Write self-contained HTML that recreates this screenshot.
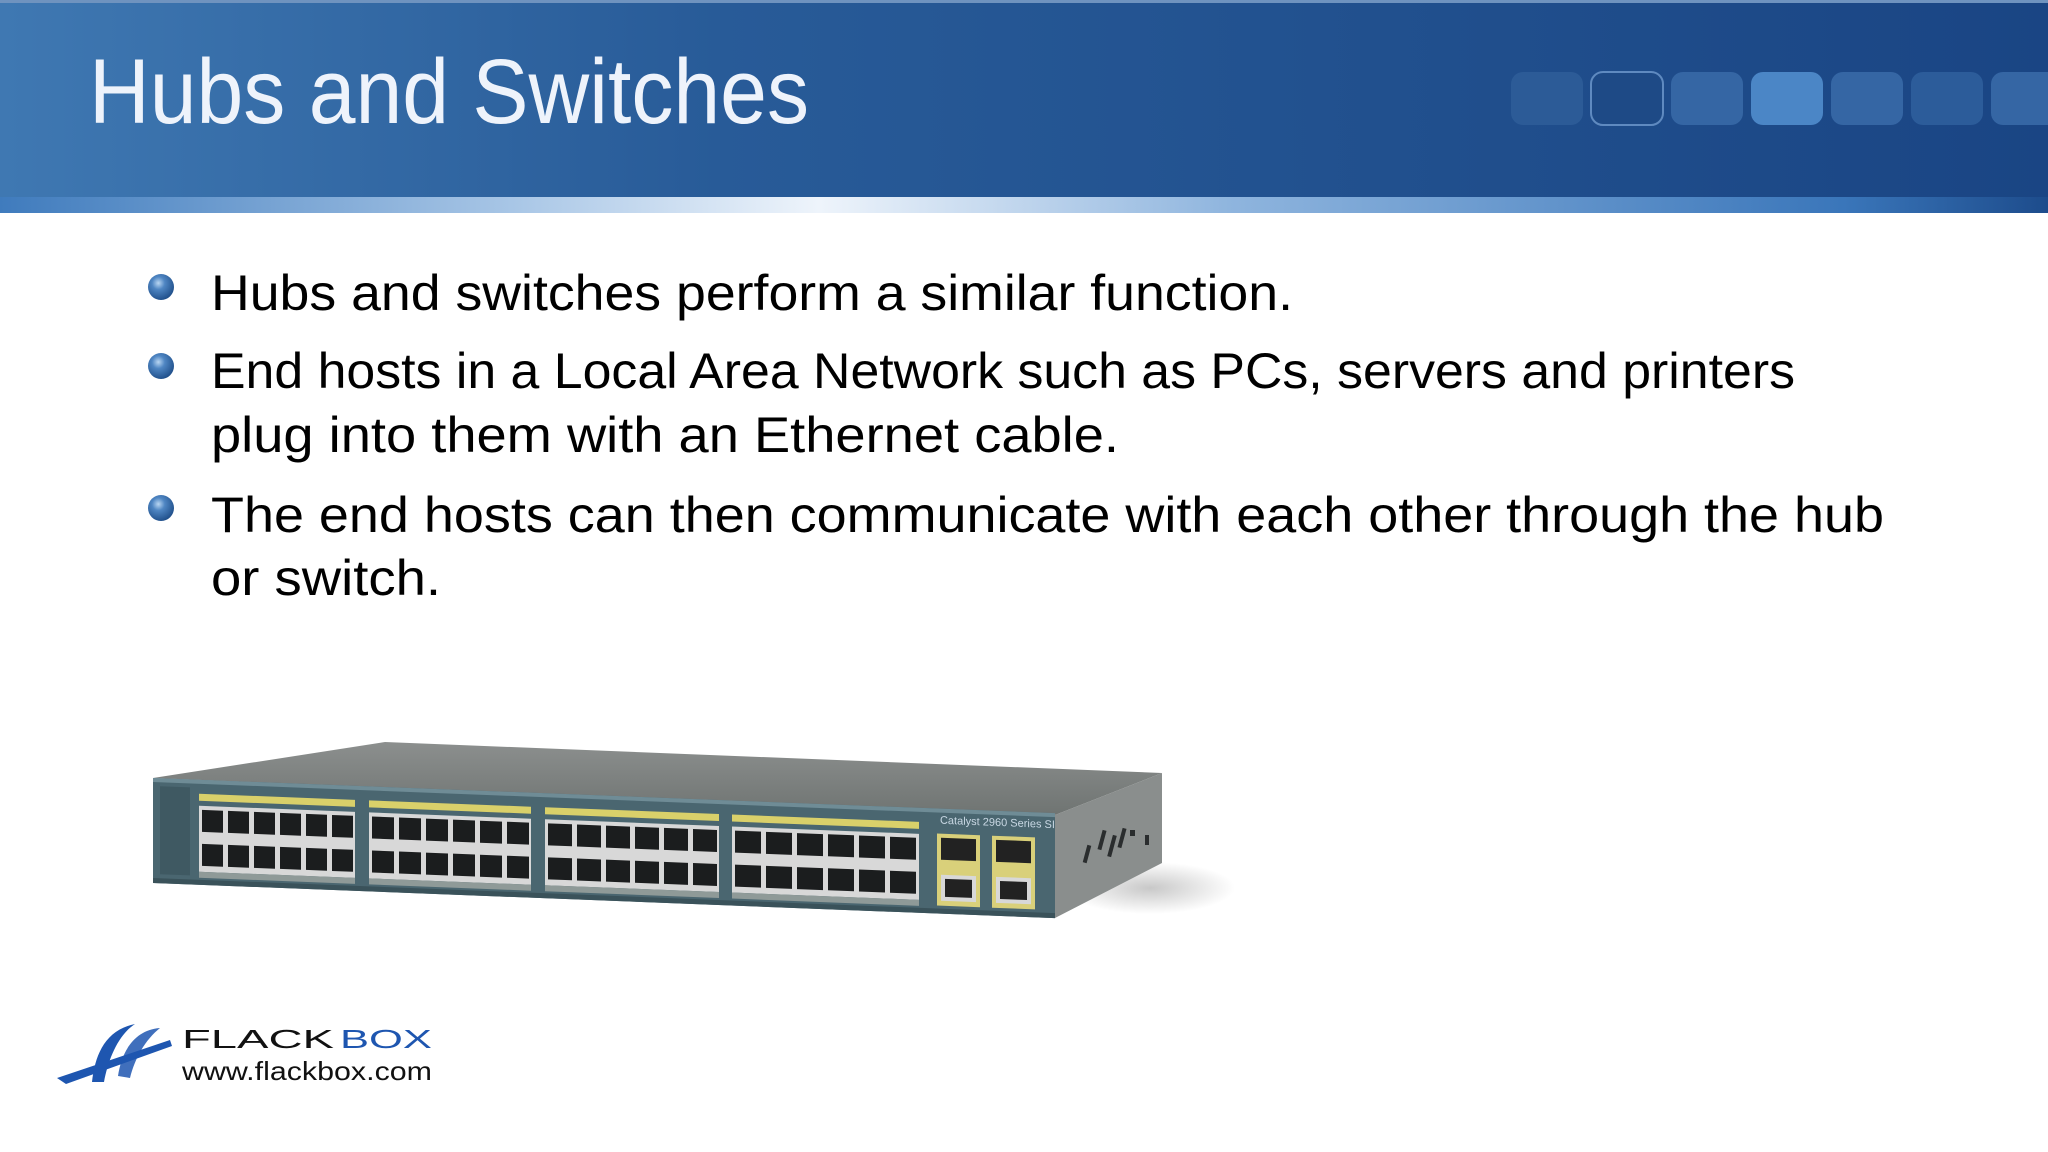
<!DOCTYPE html>
<html><head><meta charset="utf-8"><style>
html,body{margin:0;padding:0;background:#fff;}
svg{display:block;}
</style></head><body>
<svg width="2048" height="1152" viewBox="0 0 2048 1152" xmlns="http://www.w3.org/2000/svg">
<defs>
<linearGradient id="hdr" x1="0" y1="0" x2="1" y2="0">
<stop offset="0" stop-color="#3f78b2"/><stop offset="0.35" stop-color="#285b98"/><stop offset="1" stop-color="#1a4584"/>
</linearGradient>
<linearGradient id="band" x1="0" y1="0" x2="1" y2="0">
<stop offset="0" stop-color="#3f7bbd"/><stop offset="0.25" stop-color="#a8c6e6"/><stop offset="0.4" stop-color="#eef4fb"/><stop offset="0.6" stop-color="#8fb5de"/><stop offset="0.9" stop-color="#3a76ba"/><stop offset="1" stop-color="#1d4c8c"/>
</linearGradient>
<radialGradient id="ball" cx="0.4" cy="0.35" r="0.7">
<stop offset="0" stop-color="#b9d6f2"/><stop offset="0.35" stop-color="#4f86c3"/><stop offset="1" stop-color="#1c4b86"/>
</radialGradient>
<linearGradient id="topf" x1="0" y1="0" x2="0" y2="1">
<stop offset="0" stop-color="#8c8f8e"/><stop offset="1" stop-color="#6f7472"/>
</linearGradient>
<radialGradient id="shd" cx="0.5" cy="0.5" r="0.5">
<stop offset="0" stop-color="#c8c8c8"/><stop offset="1" stop-color="#ffffff"/>
</radialGradient>
</defs>
<rect x="0" y="0" width="2048" height="213" fill="url(#hdr)"/>
<rect x="0" y="0" width="2048" height="3" fill="#6f93bf"/>
<rect x="0" y="197" width="2048" height="16" fill="url(#band)"/>
<text x="89" y="123" font-family="Liberation Sans, sans-serif" font-size="92" fill="#eef3fb" textLength="720" lengthAdjust="spacingAndGlyphs">Hubs and Switches</text>
<g>
<rect x="1511" y="72" width="72" height="53" rx="12" fill="#2f5f9a" opacity="0.8"/>
<rect x="1591" y="72" width="72" height="53" rx="12" fill="#1e4a86" stroke="#5f8ac0" stroke-width="2"/>
<rect x="1671" y="72" width="72" height="53" rx="12" fill="#3566a4"/>
<rect x="1751" y="72" width="72" height="53" rx="12" fill="#4b86c6"/>
<rect x="1831" y="72" width="72" height="53" rx="12" fill="#3566a4"/>
<rect x="1911" y="72" width="72" height="53" rx="12" fill="#2c5c9a"/>
<rect x="1991" y="72" width="72" height="53" rx="12" fill="#3566a4"/>
</g>
<g font-family="Liberation Sans, sans-serif" font-size="50" fill="#000">
<circle cx="161" cy="287" r="13" fill="url(#ball)"/>
<circle cx="161" cy="366" r="13" fill="url(#ball)"/>
<circle cx="161" cy="508" r="13" fill="url(#ball)"/>
<text x="211" y="310" textLength="1082" lengthAdjust="spacingAndGlyphs">Hubs and switches perform a similar function.</text>
<text x="211" y="388" textLength="1584" lengthAdjust="spacingAndGlyphs">End hosts in a Local Area Network such as PCs, servers and printers</text>
<text x="211" y="452" textLength="908" lengthAdjust="spacingAndGlyphs">plug into them with an Ethernet cable.</text>
<text x="211" y="532" textLength="1673" lengthAdjust="spacingAndGlyphs">The end hosts can then communicate with each other through the hub</text>
<text x="211" y="595" textLength="230" lengthAdjust="spacingAndGlyphs">or switch.</text>
</g>
<ellipse cx="1150" cy="888" rx="85" ry="26" fill="url(#shd)"/>
<polygon points="153,778 385,742 1162,773 1055,815" fill="url(#topf)"/>
<polygon points="1055,815 1162,773 1162,863 1055,918" fill="#8a8e8d"/>
<g fill="#2a2d2e">
<rect x="1085" y="845" width="4" height="18" transform="rotate(15 1087 854)"/>
<rect x="1100" y="830" width="4" height="20" transform="rotate(15 1102 840)"/>
<rect x="1110" y="835" width="4" height="22" transform="rotate(15 1112 846)"/>
<rect x="1120" y="828" width="4" height="20" transform="rotate(15 1122 838)"/>
<rect x="1130" y="830" width="5" height="6"/>
<rect x="1145" y="835" width="4" height="10"/>
</g>
<g transform="matrix(1,0.039,0,1,0,0)">
<rect x="153" y="772" width="902" height="105" fill="#4a6670"/>
<rect x="153" y="772" width="902" height="4" fill="#6f8c96"/>
<rect x="153" y="872" width="902" height="5" fill="#3a525a"/>
<rect x="160" y="780" width="30" height="88" fill="#3f5962"/>
<g fill="#d8d8d8">
<rect x="199" y="798" width="156" height="66"/>
<rect x="369" y="798" width="162" height="66"/>
<rect x="545" y="798" width="174" height="66"/>
<rect x="732" y="798" width="187" height="66"/>
</g>
<g fill="#d9d06a">
<rect x="199" y="786" width="156" height="7"/>
<rect x="369" y="786" width="162" height="7"/>
<rect x="545" y="786" width="174" height="7"/>
<rect x="732" y="786" width="187" height="7"/>
</g>
<g fill="#1b1d1e">
<rect x="202" y="802" width="21" height="22"/><rect x="228" y="802" width="21" height="22"/><rect x="254" y="802" width="21" height="22"/><rect x="280" y="802" width="21" height="22"/><rect x="306" y="802" width="21" height="22"/><rect x="332" y="802" width="21" height="22"/>
<rect x="202" y="836" width="21" height="22"/><rect x="228" y="836" width="21" height="22"/><rect x="254" y="836" width="21" height="22"/><rect x="280" y="836" width="21" height="22"/><rect x="306" y="836" width="21" height="22"/><rect x="332" y="836" width="21" height="22"/>
<rect x="372" y="802" width="22" height="22"/><rect x="399" y="802" width="22" height="22"/><rect x="426" y="802" width="22" height="22"/><rect x="453" y="802" width="22" height="22"/><rect x="480" y="802" width="22" height="22"/><rect x="507" y="802" width="22" height="22"/>
<rect x="372" y="836" width="22" height="22"/><rect x="399" y="836" width="22" height="22"/><rect x="426" y="836" width="22" height="22"/><rect x="453" y="836" width="22" height="22"/><rect x="480" y="836" width="22" height="22"/><rect x="507" y="836" width="22" height="22"/>
<rect x="548" y="802" width="24" height="22"/><rect x="577" y="802" width="24" height="22"/><rect x="606" y="802" width="24" height="22"/><rect x="635" y="802" width="24" height="22"/><rect x="664" y="802" width="24" height="22"/><rect x="693" y="802" width="24" height="22"/>
<rect x="548" y="836" width="24" height="22"/><rect x="577" y="836" width="24" height="22"/><rect x="606" y="836" width="24" height="22"/><rect x="635" y="836" width="24" height="22"/><rect x="664" y="836" width="24" height="22"/><rect x="693" y="836" width="24" height="22"/>
<rect x="735" y="802" width="26" height="22"/><rect x="766" y="802" width="26" height="22"/><rect x="797" y="802" width="26" height="22"/><rect x="828" y="802" width="26" height="22"/><rect x="859" y="802" width="26" height="22"/><rect x="890" y="802" width="26" height="22"/>
<rect x="735" y="836" width="26" height="22"/><rect x="766" y="836" width="26" height="22"/><rect x="797" y="836" width="26" height="22"/><rect x="828" y="836" width="26" height="22"/><rect x="859" y="836" width="26" height="22"/><rect x="890" y="836" width="26" height="22"/>
</g>
<g fill="#8f9a98">
<rect x="199" y="864" width="156" height="6"/><rect x="369" y="864" width="162" height="6"/><rect x="545" y="864" width="174" height="6"/><rect x="732" y="864" width="187" height="6"/>
</g>
<rect x="937" y="797" width="43" height="72" fill="#d9d07a"/>
<rect x="941" y="801" width="35" height="22" fill="#222"/>
<rect x="941" y="838" width="35" height="26" fill="#d8d8d8"/><rect x="945" y="842" width="27" height="18" fill="#222"/>
<rect x="992" y="797" width="43" height="72" fill="#d9d07a"/>
<rect x="996" y="801" width="35" height="22" fill="#222"/>
<rect x="996" y="838" width="35" height="26" fill="#d8d8d8"/><rect x="1000" y="842" width="27" height="18" fill="#222"/>
<text x="940" y="787" font-family="Liberation Sans, sans-serif" font-size="11" fill="#c9d8e4">Catalyst 2960 Series SI</text>
</g>
<g fill="#1e56b0">
<path d="M57,1078 L170,1040 L172,1046 L66,1084 Z"/>
<path d="M92,1082 C95,1055 105,1030 135,1024 C118,1035 108,1060 104,1082 Z"/>
<path d="M118,1076 C122,1050 135,1030 160,1028 C145,1040 135,1058 130,1078 Z" opacity="0.85"/>
</g>
<text x="182" y="1048" font-family="Liberation Sans, sans-serif" font-size="26" fill="#111" textLength="152" lengthAdjust="spacingAndGlyphs">FLACK</text>
<text x="340" y="1048" font-family="Liberation Sans, sans-serif" font-size="26" fill="#1e56b0" textLength="92" lengthAdjust="spacingAndGlyphs">BOX</text>
<text x="182" y="1080" font-family="Liberation Sans, sans-serif" font-size="26" fill="#111" textLength="250" lengthAdjust="spacingAndGlyphs">www.flackbox.com</text>
</svg>
</body></html>
